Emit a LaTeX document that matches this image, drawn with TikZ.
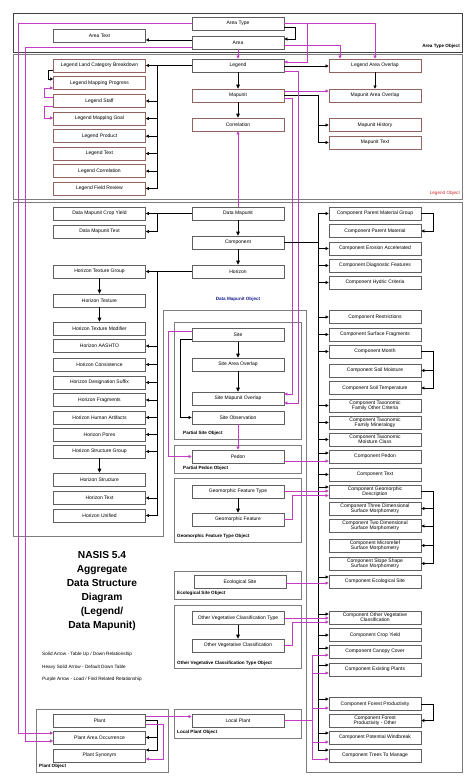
\documentclass[tikz,border=0pt]{standalone}
\usepackage{fontspec}
\setmainfont{Liberation Sans}
\usetikzlibrary{arrows.meta,calc}
\definecolor{boxc}{RGB}{95,95,95}
\definecolor{legc}{RGB}{145,100,95}
\definecolor{framec}{RGB}{125,125,125}
\definecolor{mag}{RGB}{195,60,195}
\definecolor{navyc}{RGB}{30,30,150}
\definecolor{redc}{RGB}{205,40,40}
\tikzset{
 box/.style={draw=boxc,fill=white,line width=0.7pt,minimum width=92pt,minimum height=13pt,inner sep=0pt,font=\fontsize{5}{5.2}\selectfont,align=center},
 lbox/.style={box,draw=legc},
 frame/.style={draw=framec,line width=0.8pt},
 grplabel/.style={font=\fontsize{4.6}{5}\selectfont\bfseries,anchor=west,inner sep=0pt},
 arr/.style={draw=black,line width=0.5pt,-{Triangle[length=3pt,width=3pt]}},
 harr/.style={draw=black,line width=0.8pt,-{Triangle[length=4pt,width=3.6pt]}},
 marr/.style={draw=mag,line width=0.6pt,-{Triangle[length=3pt,width=3pt]}},
 note/.style={font=\fontsize{4.7}{5}\selectfont,anchor=west,inner sep=0pt},
}
\begin{document}
\begin{tikzpicture}[x=1pt,y=-1pt]
\fill[white] (0,0) rectangle (474,784);
\useasboundingbox (0,0) rectangle (474,784);
% frames
\draw[draw=black!75,line width=0.9pt] (13,13) rectangle (462,52);
\node[font=\fontsize{4.6}{5}\selectfont\bfseries,anchor=east,inner sep=0pt] (atolabel) at (460,46) {Area Type Object};
\draw[frame] (13,54) rectangle (462,199);
\node[font=\fontsize{4.6}{5}\selectfont,text=redc,anchor=east,inner sep=0pt] (lolabel) at (460,193) {Legend Object};
\draw[frame] (13,202) -- (462,202) -- (462,772) -- (306,772) -- (306,310) -- (163,310) -- (163,536) -- (13,536) -- cycle;
\node[font=\fontsize{4.6}{5}\selectfont\bfseries,text=navyc,inner sep=0pt] (dmolabel) at (238,299) {Data Mapunit Object};
\draw[frame] (174,322) rectangle (301,439);
\node[grplabel] (psolabel) at (183,433) {Partial Site Object};
\draw[frame] (174,445) rectangle (301,473);
\node[grplabel] (ppolabel) at (183,468) {Partial Pedon Object};
\draw[frame] (174,478) rectangle (301,542);
\node[grplabel] (gftolabel) at (177,536) {Geomorphic Feature Type Object};
\draw[frame] (174,571) rectangle (301,599);
\node[grplabel] (esolabel) at (177,593) {Ecological Site Object};
\draw[frame] (174,605) rectangle (301,668);
\node[grplabel] (ovctolabel) at (177,663) {Other Vegetative Classification Type Object};
\draw[frame] (174,709) rectangle (301,738);
\node[grplabel] (lpolabel) at (177,732) {Local Plant Object};
\draw[frame] (36,709) rectangle (168,772);
\node[grplabel] (polabel) at (39,766) {Plant Object};

% title and notes
\node[font=\fontsize{10.2}{14}\selectfont\bfseries,align=center,inner sep=0pt] (title) at (102,591) {NASIS 5.4\\Aggregate\\Data Structure\\Diagram\\(Legend/\\Data Mapunit)};
\node[note] (n1) at (42,654) {Solid Arrow - Table Up / Down Relationship};
\node[note] (n2) at (42,667) {Heavy Solid Arrow - Default Down Table};
\node[note] (n3) at (42,679) {Purple Arrow - Load / Find Related Relationship};

% area type
\node[box] (areatype) at (238,23.5) {Area Type};
\node[box] (areatext) at (99.5,35.5) {Area Text};
\node[box] (area) at (238,42.5) {Area};
% legend
\node[box] (legend) at (238,65.5) {Legend};
\node[lbox] (llcb) at (99.5,65.5) {Legend Land Category Breakdown};
\node[lbox] (lmp) at (99.5,83.3) {Legend Mapping Progress};
\node[lbox] (lstaff) at (99.5,101) {Legend Staff};
\node[lbox] (lmg) at (99.5,118.6) {Legend Mapping Goal};
\node[lbox] (lprod) at (99.5,136.2) {Legend Product};
\node[lbox] (ltext) at (99.5,153.6) {Legend Text};
\node[lbox] (lcorr) at (99.5,171.1) {Legend Correlation};
\node[lbox] (lfr) at (99.5,188.5) {Legend Field Review};
\node[lbox] (lao) at (375,65.5) {Legend Area Overlap};
\node[lbox] (mapunit) at (238,95.5) {Mapunit};
\node[lbox] (mao) at (375,95.5) {Mapunit Area Overlap};
\node[lbox] (correlation) at (238,124.5) {Correlation};
\node[lbox] (mhist) at (375,125) {Mapunit History};
\node[lbox] (mtext) at (375,142.5) {Mapunit Text};
% data mapunit
\node[box] (dmcy) at (99.5,213.5) {Data Mapunit Crop Yield};
\node[box] (dmtext) at (99.5,231.5) {Data Mapunit Text};
\node[box] (dm) at (238,213.5) {Data Mapunit};
\node[box] (component) at (238,242.5) {Component};
\node[box] (horizon) at (238,271.5) {Horizon};
\node[box] (htg) at (99.5,271.5) {Horizon Texture Group};
\node[box] (htex) at (99.5,300.5) {Horizon Texture};
\node[box] (htm) at (99.5,328.5) {Horizon Texture Modifier};
\node[box] (haashto) at (99.5,346) {Horizon AASHTO};
\node[box] (hcons) at (99.5,364.5) {Horizon Consistence};
\node[box] (hdesig) at (99.5,382.5) {Horizon Designation Suffix};
\node[box] (hfrag) at (99.5,400) {Horizon Fragments};
\node[box] (hhuman) at (99.5,417.5) {Horizon Human Artifacts};
\node[box] (hpores) at (99.5,434.5) {Horizon Pores};
\node[box] (hsg) at (99.5,451.5) {Horizon Structure Group};
\node[box] (hstruct) at (99.5,479.5) {Horizon Structure};
\node[box] (htext) at (99.5,498) {Horizon Text};
\node[box] (hunified) at (99.5,515.5) {Horizon Unified};
% right column
\node[box] (cpmg) at (375,213.5) {Component Parent Material Group};
\node[box] (cpm) at (375,231) {Component Parent Material};
\node[box] (cea) at (375,248.5) {Component Erosion Accelerated};
\node[box] (cdf) at (375,265.5) {Component Diagnostic Features};
\node[box] (chc) at (375,282.5) {Component Hydric Criteria};
\node[box] (crest) at (375,317) {Component Restrictions};
\node[box] (csf) at (375,334.5) {Component Surface Fragments};
\node[box] (cmonth) at (375,351.5) {Component Month};
\node[box] (csm) at (375,370.5) {Component Soil Moisture};
\node[box] (cst) at (375,388) {Component Soil Temperature};
\node[box] (ctfoc) at (375,405.5) {Component Taxonomic\\Family Other Criteria};
\node[box] (ctfm) at (375,422.5) {Component Taxonomic\\Family Mineralogy};
\node[box] (ctmc) at (375,439.5) {Component Taxonomic\\Moisture Class};
\node[box] (cpedon) at (375,456.5) {Component Pedon};
\node[box] (ctext) at (375,474.5) {Component Text};
\node[box] (cgd) at (375,491.5) {Component Geomorphic\\Description};
\node[box] (c3d) at (375,508.5) {Component Three Dimensional\\Surface Morphometry};
\node[box] (c2d) at (375,526) {Component Two Dimensional\\Surface Morphometry};
\node[box] (cmr) at (375,545.5) {Component Microrelief\\Surface Morphometry};
\node[box] (css) at (375,563.5) {Component Slope Shape\\Surface Morphometry};
\node[box] (ces) at (375,581.5) {Component Ecological Site};
\node[box] (covc) at (375,617.5) {Component Other Vegetative\\Classification};
\node[box] (ccy) at (375,635) {Component Crop Yield};
\node[box] (ccc) at (375,651.5) {Component Canopy Cover};
\node[box] (cep) at (375,669.5) {Component Existing Plants};
\node[box] (cfp) at (375,704) {Component Forest Productivity};
\node[box] (cfpo) at (375,720.5) {Component Forest\\Productivity - Other};
\node[box] (cpw) at (375,737.5) {Component Potential Windbreak};
\node[box] (cttm) at (375,755.5) {Component Trees To Manage};
% middle groups
\node[box] (site) at (238,335) {Site};
\node[box] (sao) at (238,364.5) {Site Area Overlap};
\node[box] (smo) at (238,398.5) {Site Mapunit Overlap};
\node[box] (sobs) at (238,417.5) {Site Observation};
\node[box] (pedon) at (238,456.5) {Pedon};
\node[box] (gft) at (238,491.5) {Geomorphic Feature Type};
\node[box] (gf) at (238,519.5) {Geomorphic Feature};
\node[box] (ecosite) at (240,582) {Ecological Site};
\node[box] (ovct) at (238,618) {Other Vegetative Classification Type};
\node[box] (ovc) at (238,645.5) {Other Vegetative Classification};
\node[box] (localplant) at (238,720.5) {Local Plant};
\node[box] (plant) at (99.5,720.5) {Plant};
\node[box] (pao) at (99.5,737.5) {Plant Area Occurrence};
\node[box] (psyn) at (99.5,755.5) {Plant Synonym};

% ---- connectors: area type object
\draw[arr] (areatype.east |- 0,27) -| (295,39) -- (area.east |- 0,39);
\draw[arr] (area.west |- 0,40) -- (areatext.east |- 0,40);
\draw[marr] (areatype.east |- 0,23) -| (307,62) -- (legend.east |- 0,62);
\draw[marr] (areatype.east |- 0,23) -| (lao.north);
\draw[marr] (area.east |- 0,45) -| ([xshift=-35pt]lao.north);
\draw[marr] (area.south) -- (legend.north);
\draw[marr] (areatype.west) -| (18,733) -- (pao.west |- 0,733);
\draw[marr] (area.west |- 0,47) -| (25,741) -- (pao.west |- 0,741);
% legend object
\draw[arr] (legend.west) -- (llcb.east);
\foreach \t in {lstaff,lmg,lprod,ltext,lcorr,lfr}{\draw[arr] (legend.west) -| (157,65.5) |- (\t.east);}
\draw[arr] (llcb.west |- 0,70) -| (48,79) -- (lmp.west |- 0,79);
\draw[marr] (lstaff.west |- 0,97) -| (44,88) -- (lmp.west |- 0,88);
\draw[marr] (lstaff.west |- 0,106) -| (44,118) -- (lmg.west |- 0,118);
\draw[arr] (legend.east |- 0,66) -- (lao.west |- 0,66);
\draw[arr] (lao.south) -- (mao.north);
\draw[harr] (legend.south) -- (mapunit.north);
\draw[harr] (mapunit.south) -- (correlation.north);
\draw[marr] (mapunit.east |- 0,91) -- (mao.west |- 0,91);
\draw[arr] (mapunit.east |- 0,95) -| (318,125) -- (mhist.west);
\draw[arr] (mapunit.east |- 0,95) -| (318,142.5) -- (mtext.west);
\draw[marr] (legend.east |- 0,71) -| (298,403) -- (smo.east |- 0,403);
\draw[marr] (mapunit.east |- 0,98.5) -| (292,394) -- (smo.east |- 0,394);
\draw[marr] (dm.north) -- (correlation.south);
% data mapunit object
\draw[arr] (dm.west) -- (dmcy.east);
\draw[arr] (dm.west) -| (157,231.5) -- (dmtext.east);
\draw[harr] (dm.south) -- (component.north);
\draw[harr] (component.south) -- (horizon.north);
\draw[arr] (horizon.west) -- (htg.east);
\foreach \t in {haashto,hcons,hdesig,hfrag,hhuman,hpores,hsg,htext,hunified}{\draw[arr] (horizon.west) -| (157,271.5) |- (\t.east);}
\draw[harr] (htg.south) -- (htex.north);
\draw[harr] (htex.south) -- (htm.north);
\draw[harr] (hsg.south) -- (hstruct.north);
% component bus
\foreach \t/\d in {cpmg/0,cea/0,cdf/0,chc/0,crest/0,csf/0,cmonth/0,ctfoc/0,ctfm/0,ctmc/0,cpedon/-3.5,ctext/0,cgd/-4.5,ces/-4.5,covc/-3.5,ccy/0,ccc/-3.5,cep/-4.5,cfp/-5,cpw/-4.5,cttm/-5.5}{
  \draw[arr] (component.east) -| (318,242.5) |- ($(\t.west)+(0,\d)$);}
\draw[arr] (cpmg.east) -| (433,231) -- (cpm.east);
\draw[arr] (cmonth.east) -| (433,370.5) -- (csm.east);
\draw[arr] (cmonth.east) -| (433,388) -- (cst.east);
\foreach \t in {c3d,c2d,cmr,css}{\draw[arr] (cgd.east) -| (433,0 |- \t.east) -- (\t.east);}
\draw[arr] (cfp.east) -| (433,720.5) -- (cfpo.east);
% site / pedon
\draw[harr] (site.south) -- (sao.north);
\draw[harr] (sao.south) -- (smo.north);
\draw[arr] (site.west |- 0,339) -| (180,417.5) -- (sobs.west);
\draw[marr] (site.west |- 0,331) -| (168,456.5) -- (pedon.west);
\draw[marr] (sobs.south) -- (pedon.north);
\draw[marr] (pedon.east |- 0,461) -- (cpedon.west |- 0,461);
% geomorphic
\draw[harr] (gft.south) -- (gf.north);
\draw[marr] (gft.east |- 0,491) -- (cgd.west |- 0,491);
\draw[marr] (gf.east) -| (292,495.5) -- (cgd.west |- 0,495.5);
% ecological
\draw[marr] (ecosite.east |- 0,583) -- (ces.west |- 0,583);
% other vegetative
\draw[harr] (ovct.south) -- (ovc.north);
\draw[marr] (ovct.east |- 0,618) -- (covc.west |- 0,618);
\draw[marr] (ovc.east) -| (292,622) -- (covc.west |- 0,622);
% local plant
\foreach \t/\yy in {ccc/655,cep/673,cfp/708,cpw/742,cttm/759}{
  \draw[marr] (localplant.east) -| (312,\yy) -- (\t.west |- 0,\yy);}
\draw[marr] (plant.east |- 0,716.5) -- (localplant.west |- 0,716.5);
% plant
\draw[arr] (plant.east |- 0,720.5) -| (157,737.5) -- (pao.east);
\draw[arr] (plant.east |- 0,720.5) -| (157,750) -- (psyn.east |- 0,750);
\draw[marr] (plant.east |- 0,724.5) -| (163,759) -- (psyn.east |- 0,759);
\end{tikzpicture}
\end{document}
